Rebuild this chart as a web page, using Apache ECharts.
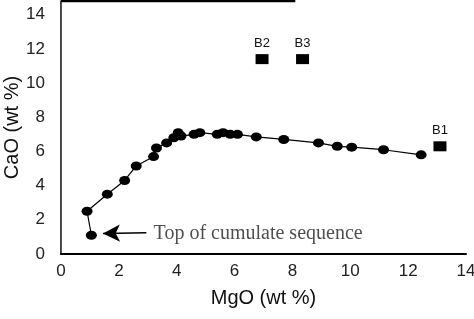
<!DOCTYPE html>
<html>
<head>
<meta charset="utf-8">
<script src="https://cdn.jsdelivr.net/npm/echarts@6/dist/echarts.min.js"></script>
<style>html,body{margin:0;padding:0;background:#fff;}#c{width:474px;height:319px;}</style>
</head>
<body>
<div id="c"></div>
<script>
// Liquid line of descent (circles, joined in order)
const mgo = [1.05, 0.9, 1.6, 2.2, 2.6, 3.2, 3.3, 3.65, 3.9, 4.05, 4.15, 4.6, 4.8, 5.4, 5.6, 5.85, 6.1, 6.75, 7.7, 8.9, 9.55, 10.05, 11.15, 12.45];
const cao = [1.1, 2.5, 3.5, 4.3, 5.15, 5.7, 6.2, 6.5, 6.8, 7.1, 6.9, 7.0, 7.1, 7.0, 7.1, 7.0, 7.0, 6.85, 6.7, 6.5, 6.3, 6.25, 6.1, 5.8];
// Samples (squares)
const sampleNames = ['B1', 'B2', 'B3'];
const sampleMgo = [13.1, 6.95, 8.35];
const sampleCao = [6.3, 11.4, 11.4];
// Axis ticks
const xTicks = [0, 2, 4, 6, 8, 10, 12, 14];
const yTicks = [0, 2, 4, 6, 8, 10, 12, 14];
// Annotation
const noteText = 'Top of cumulate sequence';
const notePos = [3.2, 1.2];
const arrowHead = [1.45, 1.2];
const arrowTail = [2.95, 1.25];
// scanned partial top frame rule
const topRule = [[0, 14.8], [8.1, 14.8]];

const chart = echarts.init(document.getElementById('c'), null, {renderer: 'canvas'});
const lineData = mgo.map((x, i) => [x, cao[i]]);
const sampleData = sampleNames.map((n, i) => ({name: n, value: [sampleMgo[i], sampleCao[i]]}));

chart.setOption({
  animation: false,
  backgroundColor: '#fff',
  grid: {left: 61, right: 8, top: 1, bottom: 65, containLabel: false, outerBoundsMode: 'none'},
  xAxis: {
    type: 'value', min: xTicks[0], max: xTicks[xTicks.length - 1], interval: 2,
    name: 'MgO (wt %)', nameLocation: 'middle', nameGap: 34, nameMoveOverlap: false,
    nameTextStyle: {fontFamily: 'Liberation Sans', fontSize: 20, color: '#111'},
    axisLine: {show: true, onZero: false, lineStyle: {color: '#000', width: 2}},
    axisTick: {show: false},
    splitLine: {show: false},
    axisLabel: {fontFamily: 'Liberation Sans', fontSize: 17, color: '#222', margin: 9}
  },
  yAxis: [{
    type: 'value', min: 0, max: 14.8, interval: 2,
    name: 'CaO (wt %)', nameLocation: 'middle', nameGap: 39, nameRotate: 90, nameMoveOverlap: false,
    nameTextStyle: {fontFamily: 'Liberation Sans', fontSize: 20, color: '#111'},
    axisLine: {show: true, onZero: false, lineStyle: {color: '#000', width: 1.5}},
    axisTick: {show: false},
    splitLine: {show: false},
    axisLabel: {fontFamily: 'Liberation Sans', fontSize: 17, color: '#222', margin: 16,
      formatter: v => (yTicks.indexOf(v) >= 0 ? String(v) : '')}
  }, {
    type: 'value', min: 0, max: 14.8, position: 'right',
    axisLine: {show: true, lineStyle: {color: '#555', width: 1}},
    axisTick: {show: false}, axisLabel: {show: false}, splitLine: {show: false}
  }],
  series: [
    {
      type: 'line', data: lineData, yAxisIndex: 0,
      symbol: 'circle', symbolSize: [11, 9],
      itemStyle: {color: '#000', opacity: 1},
      lineStyle: {color: '#000', width: 1.2}
    },
    {
      type: 'scatter', data: sampleData,
      symbol: 'rect', symbolSize: [13, 10],
      itemStyle: {color: '#000', opacity: 1},
      label: {show: true, position: 'top', distance: 4, formatter: p => p.name,
        fontFamily: 'Liberation Sans', fontSize: 13, color: '#111'}
    },
    {
      type: 'line', data: topRule, symbol: 'none', silent: true,
      lineStyle: {color: '#000', width: 2.5}
    },
    {
      type: 'scatter', data: [notePos], symbolSize: 0, silent: true,
      label: {show: true, position: 'right', distance: 0, formatter: noteText,
        fontFamily: 'Liberation Serif', fontSize: 20, color: '#222'},
      markLine: {
        silent: true, symbolSize: [13, 17],
        lineStyle: {color: '#000', width: 1.5, type: 'solid'},
        label: {show: false},
        data: [[{coord: arrowHead, symbol: 'arrow'}, {coord: arrowTail, symbol: 'none'}]]
      }
    }
  ]
});
</script>
</body>
</html>
